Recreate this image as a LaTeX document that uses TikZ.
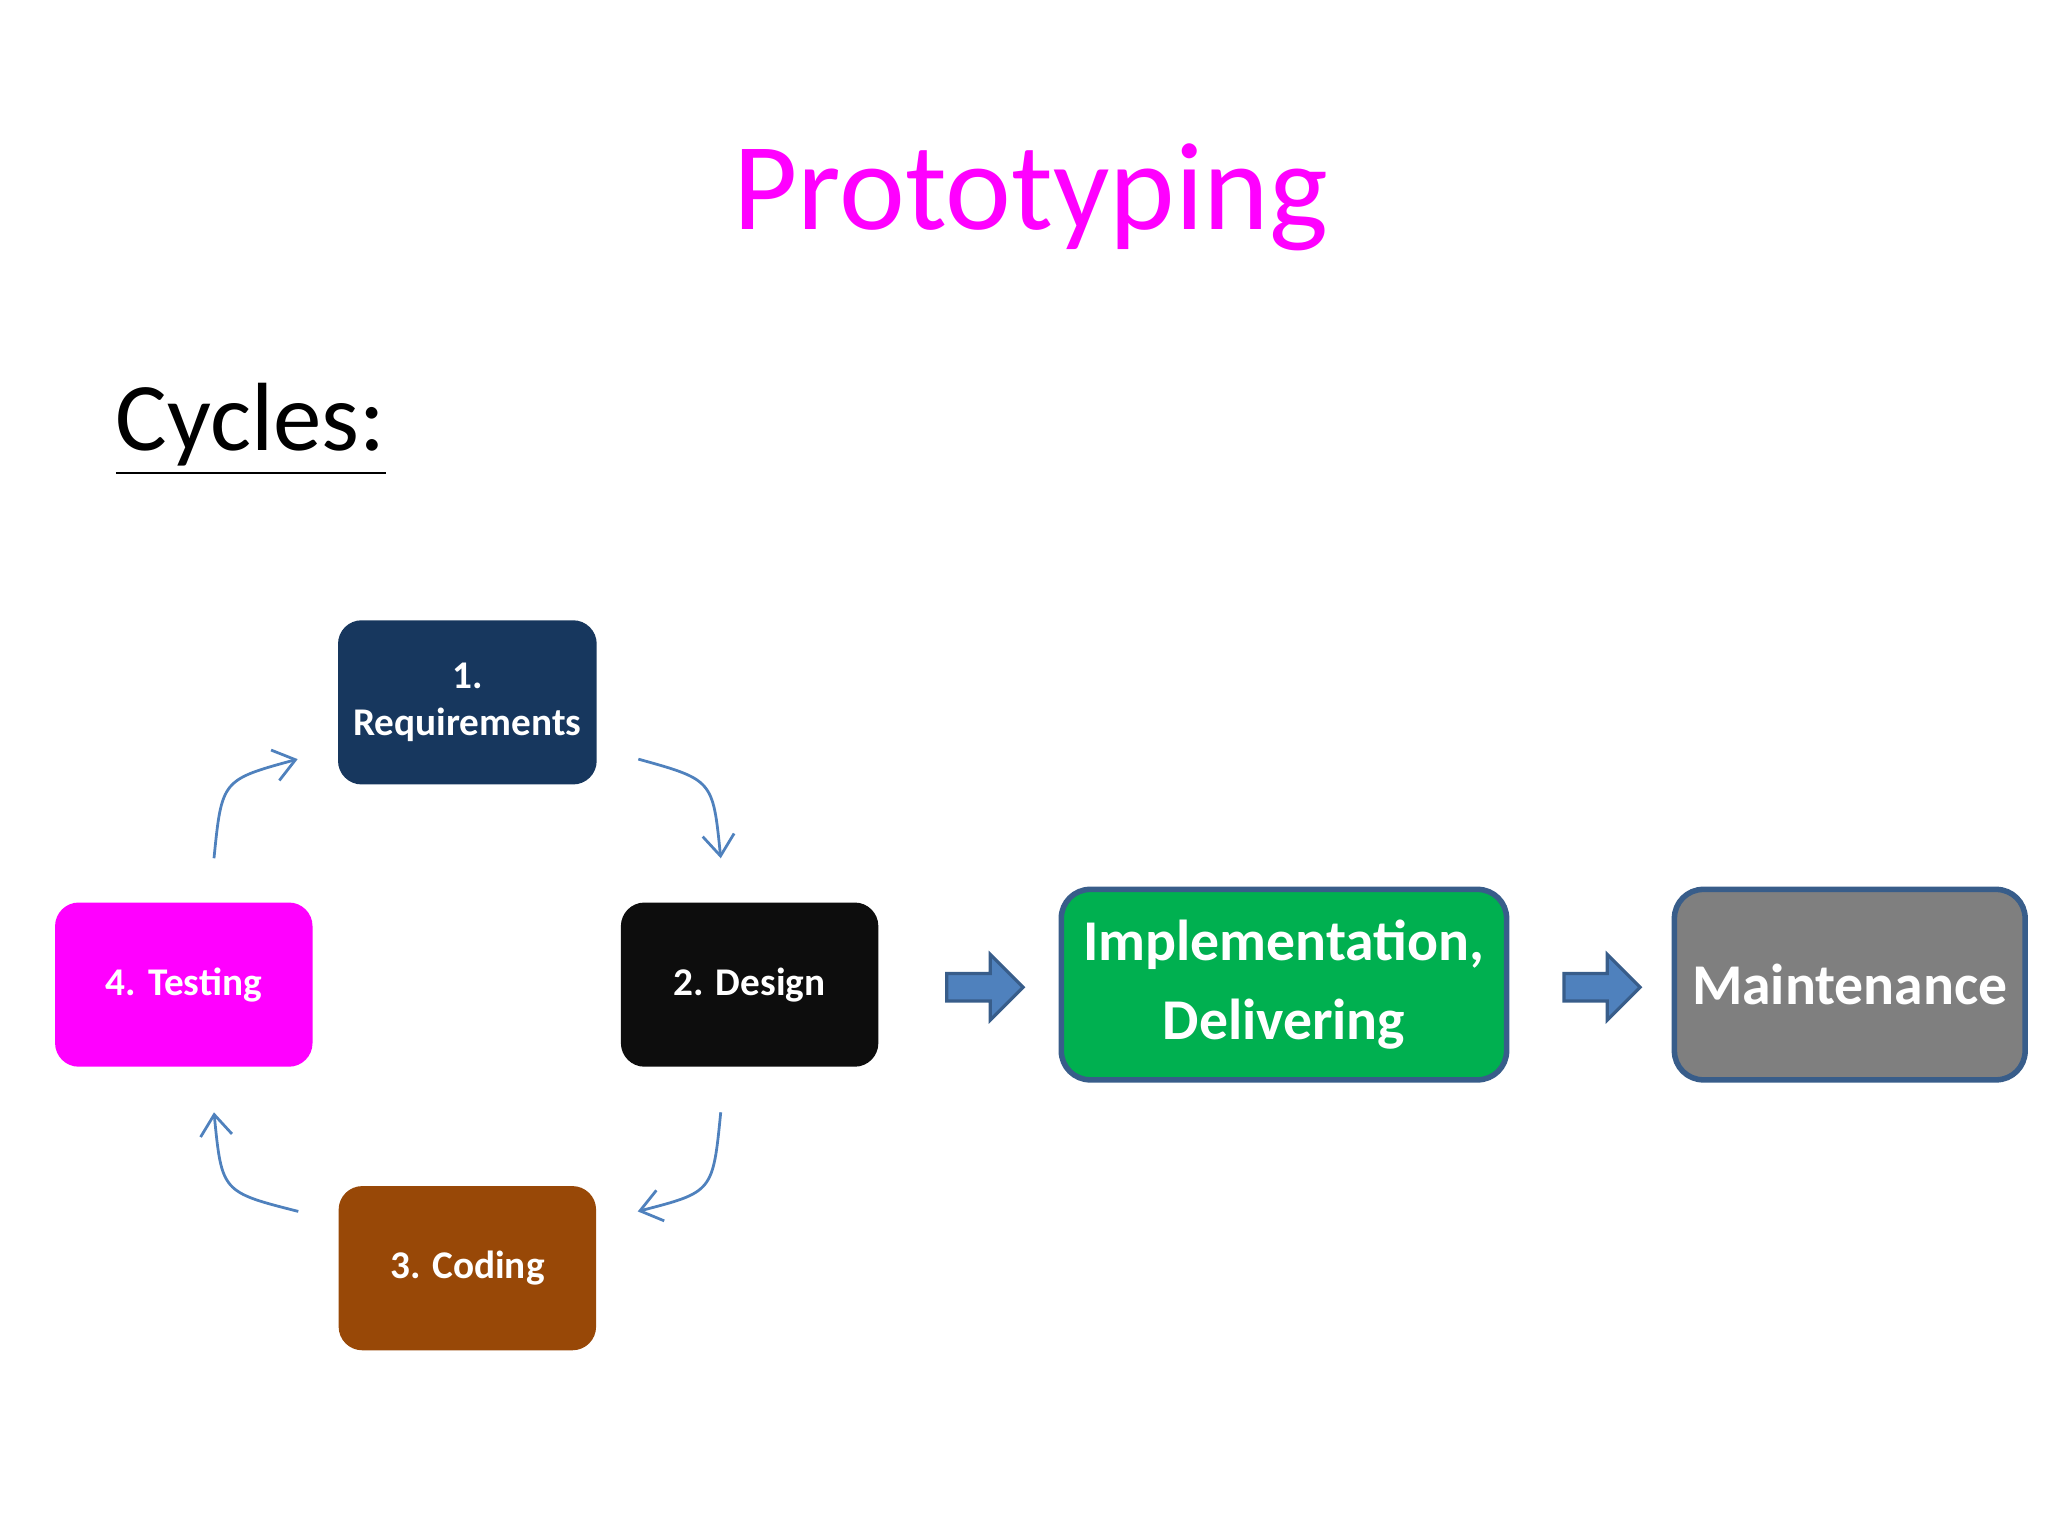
\documentclass[tikz,border=0pt]{standalone}
\usepackage{fontspec}
\setmainfont{Carlito}
\usetikzlibrary{shapes.arrows,calc,arrows.meta}
\definecolor{magent}{HTML}{FF00FF}
\definecolor{reqblue}{HTML}{17375E}
\definecolor{codebrown}{HTML}{984807}
\definecolor{implgreen}{HTML}{00B050}
\definecolor{maintgray}{HTML}{7F7F7F}
\definecolor{arrblue}{HTML}{4F81BD}
\definecolor{edgeblue}{HTML}{385D8A}
\tikzset{
  cyclestep/.style={rounded corners=0.18cm, minimum width=1.96cm, minimum height=1.25cm,
    text=white, font=\fontsize{8.5}{10}\selectfont\bfseries, align=center},
  phase/.style={rounded corners=0.22cm, minimum height=1.45cm, draw=edgeblue,
    line width=1.2pt, text=white, font=\fontsize{12.5}{17}\selectfont\bfseries, align=center},
  cyc/.style={draw=arrblue, line width=0.6pt, -{Straight Barb[length=1.6mm,width=2.4mm]}},
  blockarr/.style={single arrow, fill=arrblue, draw=edgeblue, line width=0.7pt,
    minimum height=0.58cm, minimum width=0.5cm, single arrow head extend=0.1cm, inner sep=0.6mm}
}
\begin{document}
\begin{tikzpicture}[x=0.01cm,y=-0.01cm]
\useasboundingbox (0,0) rectangle (1560,1170);
% title
\node[text=magent, font=\fontsize{27}{30}\selectfont] (title) at (785,150) {Prototyping};
\node[font=\fontsize{21}{24}\selectfont] (cyc) at (191,327) {\underline{Cycles:}};
% cycle steps
\node[cyclestep, fill=reqblue] (req) at (356,535) {1.\\Requirements};
\node[cyclestep, fill=black!95] (des) at (571,750) {2. Design};
\node[cyclestep, fill=codebrown] (cod) at (356,966) {3. Coding};
\node[cyclestep, fill=magent] (tst) at (140,750) {4. Testing};
% later phases
\node[phase, fill=implgreen, minimum width=3.39cm] (impl) at (978,750) {Implementation,\\Delivering};
\node[phase, fill=maintgray, minimum width=2.67cm] (mnt) at (1409,750) {Maintenance};
\node[blockarr] (a1) at (745,752) {};
\node[blockarr] (a2) at (1215,752) {};
% cycle arrows
\draw[cyc] ([shift={(31,-20)}]req.south east) .. controls (543,594) .. ([shift={(-22,-33)}]des.north);
\draw[cyc] ([shift={(-22,34)}]des.south) .. controls (543,908) .. ([shift={(31,20)}]cod.north east);
\draw[cyc] ([shift={(-30,20)}]cod.north west) .. controls (169,908) .. ([shift={(23,34)}]tst.south);
\draw[cyc] ([shift={(23,-33)}]tst.north) .. controls (169,594) .. ([shift={(-30,-20)}]req.south west);
\end{tikzpicture}
\end{document}
